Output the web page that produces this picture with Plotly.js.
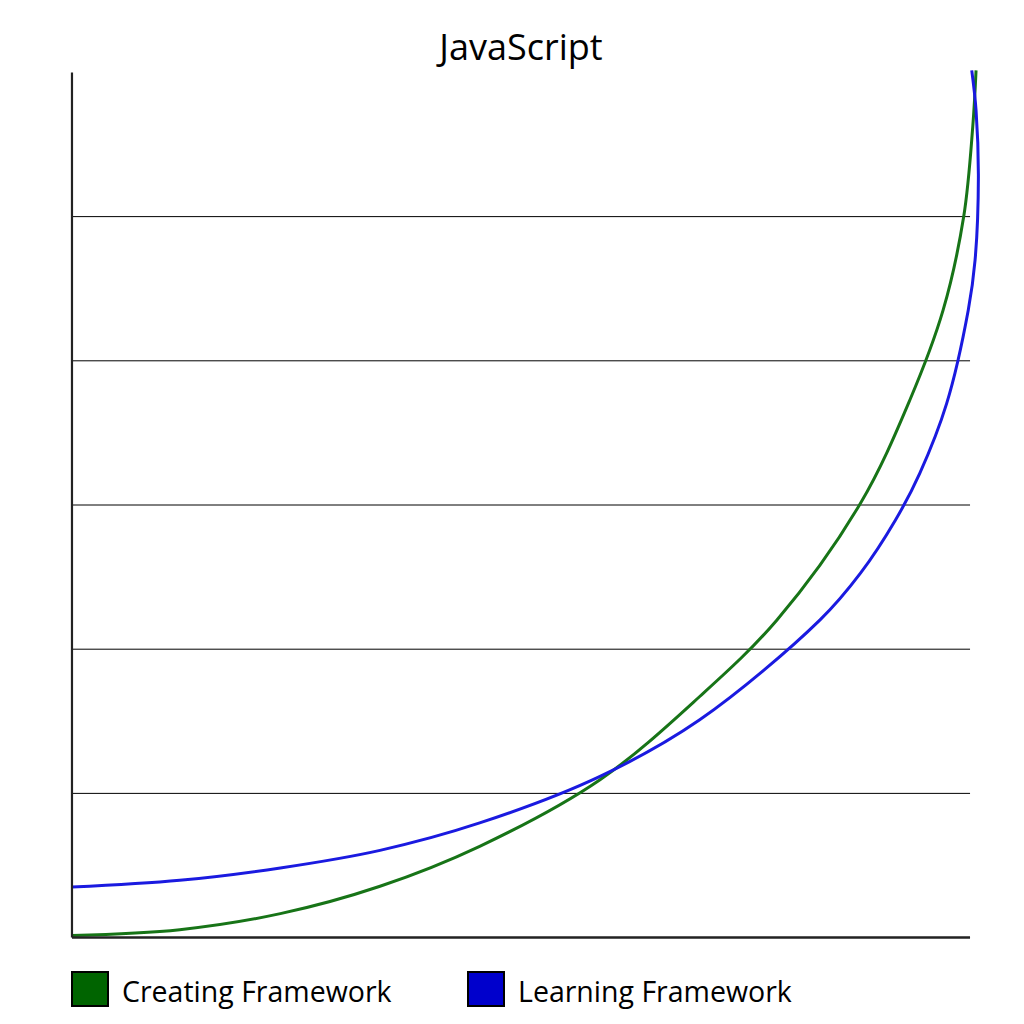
<!DOCTYPE html>
<html>
<head>
<meta charset="utf-8">
<script src="https://cdn.plot.ly/plotly-3.0.1.min.js"></script>
<style>
  html, body { margin: 0; padding: 0; background: #fff; }
  #chart { width: 1024px; height: 1024px; }
</style>
</head>
<body>
<div id="chart"></div>
<script>
// values (x: 0..10 across the axis, y: 0..6 grid units)
const creatingX = [0, 1.2, 2.32, 3.43, 4.54, 5.88, 6.99, 7.85, 8.78, 9.33, 9.7, 9.93, 10.03, 10.067];
const creatingY = [0.014, 0.055, 0.166, 0.356, 0.633, 1.095, 1.672, 2.203, 3.012, 3.728, 4.351, 5.002, 5.621, 6.014];

const learningX = [0, 1.2, 2.32, 3.43, 4.54, 5.88, 6.99, 8.33, 8.78, 9.17, 9.44, 9.74, 9.98, 10.056, 10.093, 10.067, 10.019];
const learningY = [0.35, 0.397, 0.483, 0.605, 0.795, 1.118, 1.51, 2.203, 2.527, 2.896, 3.22, 3.705, 4.351, 4.698, 5.275, 5.737, 6.014];

const gridLevels = [1, 2, 3, 4, 5];
const seriesNames = ["Creating Framework", "Learning Framework"];
const lineColors = ["#177417", "#1a1ae0"];
const boxColors = ["#006400", "#0000cc"];

const FONT = "'Open Sans', 'Noto Sans', sans-serif";

const traces = [
  {
    x: creatingX, y: creatingY, name: seriesNames[0],
    type: "scatter", mode: "lines",
    line: { color: lineColors[0], width: 3, shape: "spline", smoothing: 1 },
    showlegend: false, hoverinfo: "skip",
  },
  {
    x: learningX, y: learningY, name: seriesNames[1],
    type: "scatter", mode: "lines",
    line: { color: lineColors[1], width: 3, shape: "spline", smoothing: 1 },
    showlegend: false, hoverinfo: "skip",
  },
];

// grid and axis lines drawn as shapes so the curves may run past the right end
const shapes = gridLevels.map((g) => ({
  type: "line", xref: "x", yref: "y", x0: 0, x1: 10, y0: g, y1: g,
  line: { color: "#000", width: 1 }, layer: "below",
}));
shapes.push(
  { type: "line", xref: "x", yref: "y", x0: 0, x1: 0, y0: 0, y1: 6, line: { color: "#222", width: 2.2 } },
  { type: "line", xref: "x", yref: "y", x0: 0, x1: 10, y0: 0, y1: 0, line: { color: "#222", width: 2.5 } }
);

// legend boxes below the plot, in paper units (plot area 925 x 894 px)
const W = 925, H = 894, L = 63, B = 72;
const px = (v) => (v - L) / W;
const py = (v) => (1024 - B - v) / H;
const legendLeft = [72, 468];
const annotations = [];
seriesNames.forEach((name, i) => {
  shapes.push({
    type: "rect", xref: "paper", yref: "paper",
    x0: px(legendLeft[i]), x1: px(legendLeft[i] + 36),
    y0: py(1006), y1: py(972),
    fillcolor: boxColors[i], line: { color: "#000", width: 2 },
  });
  annotations.push({
    xref: "paper", yref: "paper",
    x: px(legendLeft[i] + 48), y: py(991),
    xanchor: "left", yanchor: "middle", showarrow: false,
    text: name, font: { family: FONT, size: 28.5, color: "#000" },
  });
});

const layout = {
  width: 1024,
  height: 1024,
  margin: { l: L, r: 36, t: 58, b: B },
  paper_bgcolor: "#fff",
  plot_bgcolor: "#fff",
  title: {
    text: "JavaScript",
    font: { family: FONT, size: 36, color: "#000" },
    x: px(521), xref: "paper", xanchor: "center",
    y: 1 - 47 / 1024, yref: "container", yanchor: "middle",
  },
  xaxis: { range: [-0.1, 10.2], showgrid: false, zeroline: false, showticklabels: false, ticks: "", showline: false, fixedrange: true },
  yaxis: { range: [-0.1, 6.1], showgrid: false, zeroline: false, showticklabels: false, ticks: "", showline: false, fixedrange: true },
  shapes,
  annotations,
  showlegend: false,
};

Plotly.newPlot("chart", traces, layout, { displayModeBar: false, staticPlot: true });
</script>
</body>
</html>
